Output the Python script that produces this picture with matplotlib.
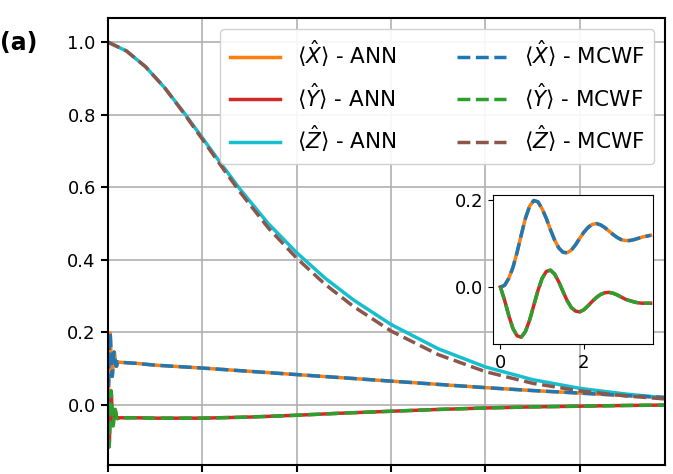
import matplotlib
matplotlib.use("Agg")
import matplotlib.pyplot as plt
import numpy as np

# inset (early-time) data
t_in = [0, 0.1, 0.2, 0.3, 0.4, 0.5, 0.6, 0.7, 0.8, 0.9, 1.0, 1.1, 1.2, 1.3, 1.4, 1.5, 1.6, 1.7, 1.8, 1.9, 2.0, 2.1, 2.2, 2.3, 2.4, 2.5, 2.6, 2.7, 2.8, 2.9, 3.0, 3.1, 3.2, 3.3, 3.4, 3.5, 3.6]
x_in = [0, 0.004, 0.02, 0.045, 0.08, 0.12, 0.158, 0.186, 0.199, 0.196, 0.18, 0.158, 0.132, 0.108, 0.09, 0.08, 0.079, 0.085, 0.097, 0.112, 0.126, 0.137, 0.144, 0.146, 0.143, 0.137, 0.129, 0.121, 0.114, 0.109, 0.107, 0.107, 0.109, 0.112, 0.115, 0.117, 0.119]
y_in = [0, -0.03, -0.065, -0.095, -0.112, -0.115, -0.102, -0.076, -0.042, -0.008, 0.02, 0.036, 0.039, 0.03, 0.012, -0.01, -0.031, -0.047, -0.055, -0.057, -0.052, -0.043, -0.033, -0.024, -0.017, -0.013, -0.012, -0.014, -0.018, -0.023, -0.028, -0.031, -0.034, -0.036, -0.037, -0.037, -0.037]

# main (long-time) data
t_main = [0.12, 0.3, 0.5, 1.0, 1.5, 2.0, 2.5, 3.0, 3.5, 4.0, 4.5, 5.0, 5.5, 5.9]
x_main = [0.118, 0.115, 0.11, 0.102, 0.093, 0.084, 0.075, 0.066, 0.057, 0.048, 0.04, 0.033, 0.026, 0.021]
y_main = [-0.035, -0.035, -0.036, -0.036, -0.033, -0.028, -0.022, -0.017, -0.012, -0.008, -0.005, -0.003, -0.001, 0.0]
t_z = [0, 0.2, 0.4, 0.6, 0.8, 1.0, 1.2, 1.4, 1.7, 2.0, 2.3, 2.6, 3.0, 3.5, 4.0, 4.5, 5.0, 5.5, 5.9]
z_ann = [1.0, 0.975, 0.932, 0.875, 0.808, 0.737, 0.665, 0.595, 0.5, 0.42, 0.35, 0.29, 0.222, 0.155, 0.105, 0.07, 0.046, 0.03, 0.02]
z_mcwf = [1.0, 0.975, 0.932, 0.875, 0.806, 0.733, 0.659, 0.587, 0.488, 0.405, 0.333, 0.272, 0.204, 0.139, 0.092, 0.06, 0.039, 0.025, 0.017]

scale = 0.03  # inset time -> main axis time
tx = [t * scale for t in t_in] + t_main
xx = x_in + x_main
yy = y_in + y_main

fig = plt.figure(figsize=(6.73, 4.74), dpi=100)
ax = fig.add_axes([0.160, 0.019, 0.828, 0.943])
lw = 2.5
ax.plot(tx, xx, color='#ff7f0e', lw=lw, label=r'$\langle\hat{X}\rangle$ - ANN')
ax.plot(tx, yy, color='#d62728', lw=lw, label=r'$\langle\hat{Y}\rangle$ - ANN')
ax.plot(t_z, z_ann, color='#17becf', lw=lw, label=r'$\langle\hat{Z}\rangle$ - ANN')
ax.plot(tx, xx, color='#1f77b4', lw=lw, ls='--', label=r'$\langle\hat{X}\rangle$ - MCWF')
ax.plot(tx, yy, color='#2ca02c', lw=lw, ls='--', label=r'$\langle\hat{Y}\rangle$ - MCWF')
ax.plot(t_z, z_mcwf, color='#8c564b', lw=lw, ls='--', label=r'$\langle\hat{Z}\rangle$ - MCWF')
ax.set_xlim(0, 5.9)
ax.set_ylim(-0.165, 1.066)
ax.set_xticks([0, 1, 2, 3, 4, 5])
ax.set_xticklabels([])
ax.set_yticks([0, 0.2, 0.4, 0.6, 0.8, 1.0])
ax.set_yticklabels(['0.0', '0.2', '0.4', '0.6', '0.8', '1.0'])
ax.tick_params(labelsize=13, width=1.5, length=5)
for s in ax.spines.values():
    s.set_linewidth(1.5)
ax.grid(True, color='#b0b0b0', lw=1.2)
ax.legend(ncol=2, loc='upper right', fontsize=15.5, columnspacing=2.8, handlelength=2.3,
          labelspacing=0.55, framealpha=0.9, borderaxespad=0.5, borderpad=0.45)
fig.text(0.0, 0.895, '(a)', fontsize=17, fontweight='bold')

ins = fig.add_axes([0.733, 0.274, 0.238, 0.314])
ins.plot(t_in, x_in, color='#ff7f0e', lw=lw)
ins.plot(t_in, y_in, color='#d62728', lw=lw)
ins.plot(t_in, x_in, color='#1f77b4', lw=lw, ls='--')
ins.plot(t_in, y_in, color='#2ca02c', lw=lw, ls='--')
ins.set_xlim(-0.17, 3.67)
ins.set_ylim(-0.131, 0.211)
ins.set_xticks([0, 2])
ins.set_yticks([0.0, 0.2])
ins.set_yticklabels(['0.0', '0.2'])
ins.tick_params(labelsize=13)
ins.set_facecolor('white')
fig.savefig('out.png', dpi=100)
